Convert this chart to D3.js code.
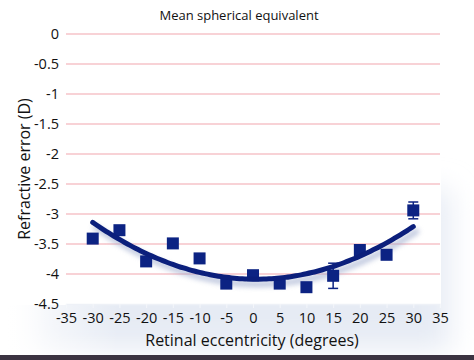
<!DOCTYPE html>
<html><head><meta charset="utf-8">
<script src="https://cdn.jsdelivr.net/npm/d3@7"></script>
<style>body{margin:0;background:#fff}svg{display:block}text{font-family:"Open Sans",sans-serif;fill:#111}</style>
</head><body>
<svg id="c" width="474" height="360"></svg>
<script>
// ---- data ----
const eccentricity = [-30,-25,-20,-15,-10,-5,0,5,10,15,20,25,30];
const meanSE = [-3.41,-3.27,-3.79,-3.49,-3.74,-4.16,-4.02,-4.16,-4.22,-4.03,-3.60,-3.68,-2.94];
const errorBars = [0,0,0,0,0,0,0,0,0,0.21,0,0,0.14];
const xTicks = [-35,-30,-25,-20,-15,-10,-5,0,5,10,15,20,25,30,35];
const yTicks = [0,-0.5,-1,-1.5,-2,-2.5,-3,-3.5,-4,-4.5];
const title = "Mean spherical equivalent";
const xTitle = "Retinal eccentricity (degrees)";
const yTitle = "Refractive error (D)";

const svg = d3.select("#c");
const W = 474, H = 360;
const m = {l:66, r:34, t:34, b:56};
const x = d3.scaleLinear().domain([-35,35]).range([m.l, W-m.r]);
const y = d3.scaleLinear().domain([-4.5,0]).range([H-m.b, m.t]);

const defs = svg.append("defs");
const glow = defs.append("filter").attr("id","glow").attr("x","-30%").attr("y","-30%").attr("width","160%").attr("height","160%");
glow.append("feGaussianBlur").attr("stdDeviation",14);
const sh = defs.append("filter").attr("id","sh").attr("x","-10%").attr("y","-10%").attr("width","120%").attr("height","140%");
sh.append("feGaussianBlur").attr("stdDeviation",2.5);
const lg = defs.append("linearGradient").attr("id","fade").attr("x1","0").attr("x2","1").attr("y1","0").attr("y2","0");
lg.append("stop").attr("offset","0").attr("stop-color","#fff").attr("stop-opacity",1);
lg.append("stop").attr("offset","0.25").attr("stop-color","#fff").attr("stop-opacity",0);

// background glow
svg.append("rect").attr("x",30).attr("y",190).attr("width",420).attr("height",160)
  .attr("fill","#e6ebf4").attr("filter","url(#glow)");
svg.append("rect").attr("x",0).attr("y",300).attr("width",W).attr("height",55).attr("fill","url(#fade)");
svg.append("rect").attr("x",0).attr("y",0).attr("width",441).attr("height",305).attr("fill","#fff");
// bottom dark band
svg.append("rect").attr("x",0).attr("y",355).attr("width",W).attr("height",5).attr("fill","#3b3341");

// gridlines
svg.append("g").selectAll("line").data(yTicks.filter(d=>d!==-4.5)).join("line")
  .attr("x1",x(-35)).attr("x2",x(35)).attr("y1",d=>y(d)).attr("y2",d=>y(d))
  .attr("stroke","#f6c3c8").attr("stroke-width",1.3);

// x axis
const xa = svg.append("g").attr("transform",`translate(0,${y(-4.5)})`)
  .call(d3.axisBottom(x).tickValues(xTicks).tickSize(4).tickPadding(5).tickFormat(d=>String(d)));
xa.select(".domain").attr("stroke","#eef1f7").attr("stroke-width",1.5);
xa.selectAll(".tick line").attr("stroke","#f4f6fa");
xa.selectAll("text").attr("font-size",14.5).attr("fill","#111").attr("font-family","'Open Sans',sans-serif");

// y axis labels
const ya = svg.append("g").attr("transform",`translate(${m.l},0)`)
  .call(d3.axisLeft(y).tickValues(yTicks).tickSize(0).tickPadding(7).tickFormat(d=>String(d)));
ya.select(".domain").remove();
ya.selectAll("text").attr("font-size",14.5).attr("fill","#111").attr("font-family","'Open Sans',sans-serif");

// titles
svg.append("text").attr("x",239).attr("y",20).attr("text-anchor","middle").attr("font-size",13).text(title);
svg.append("text").attr("x",252).attr("y",346).attr("text-anchor","middle").attr("font-size",16).text(xTitle);
svg.append("text").attr("transform",`translate(30,${(y(0)+y(-4.5))/2}) rotate(-90)`).attr("text-anchor","middle").attr("font-size",16).text(yTitle);

// quadratic least-squares trendline computed from the data
function polyfit2(xs, ys){
  let S=[0,0,0,0,0], T=[0,0,0];
  xs.forEach((xi,i)=>{ for(let k=0;k<5;k++) S[k]+=Math.pow(xi,k); for(let k=0;k<3;k++) T[k]+=ys[i]*Math.pow(xi,k); });
  const A=[[S[0],S[1],S[2],T[0]],[S[1],S[2],S[3],T[1]],[S[2],S[3],S[4],T[2]]];
  for(let i=0;i<3;i++){ for(let j=i+1;j<3;j++){ const f=A[j][i]/A[i][i]; for(let k=i;k<4;k++) A[j][k]-=f*A[i][k]; } }
  const c=[0,0,0]; for(let i=2;i>=0;i--){ let s=A[i][3]; for(let k=i+1;k<3;k++) s-=A[i][k]*c[k]; c[i]=s/A[i][i]; }
  return c;
}
const coef = polyfit2(eccentricity, meanSE);
const fitX = d3.range(-30, 30.01, 1);
const line = d3.line().x(d=>x(d)).y(d=>y(coef[0]+coef[1]*d+coef[2]*d*d)).curve(d3.curveBasis);
svg.append("path").datum(fitX).attr("d",line).attr("fill","none").attr("stroke","#9aa7cb")
  .attr("stroke-width",6).attr("stroke-linecap","round").attr("opacity",0.6)
  .attr("transform","translate(3,5)").attr("filter","url(#sh)");

// error bars
const navy = "#0c2383";
const eb = svg.append("g").selectAll("g").data(eccentricity.map((e,i)=>({e,v:meanSE[i],err:errorBars[i]})).filter(d=>d.err>0)).join("g");
eb.append("line").attr("x1",d=>x(d.e)).attr("x2",d=>x(d.e)).attr("y1",d=>y(d.v+d.err)).attr("y2",d=>y(d.v-d.err)).attr("stroke",navy).attr("stroke-width",1.5);
eb.append("line").attr("x1",d=>x(d.e)-5).attr("x2",d=>x(d.e)+5).attr("y1",d=>y(d.v+d.err)).attr("y2",d=>y(d.v+d.err)).attr("stroke",navy).attr("stroke-width",1.5);
eb.append("line").attr("x1",d=>x(d.e)-5).attr("x2",d=>x(d.e)+5).attr("y1",d=>y(d.v-d.err)).attr("y2",d=>y(d.v-d.err)).attr("stroke",navy).attr("stroke-width",1.5);

// markers
const s = 12;
svg.append("g").selectAll("rect").data(eccentricity.map((e,i)=>({e,v:meanSE[i]}))).join("rect")
  .attr("x",d=>x(d.e)-s/2).attr("y",d=>y(d.v)-s/2).attr("width",s).attr("height",s).attr("fill",navy);

// trendline
svg.append("path").datum(fitX).attr("d",line).attr("fill","none").attr("stroke","#0b1f7c")
  .attr("stroke-width",5).attr("stroke-linecap","round");
</script>
</body></html>
